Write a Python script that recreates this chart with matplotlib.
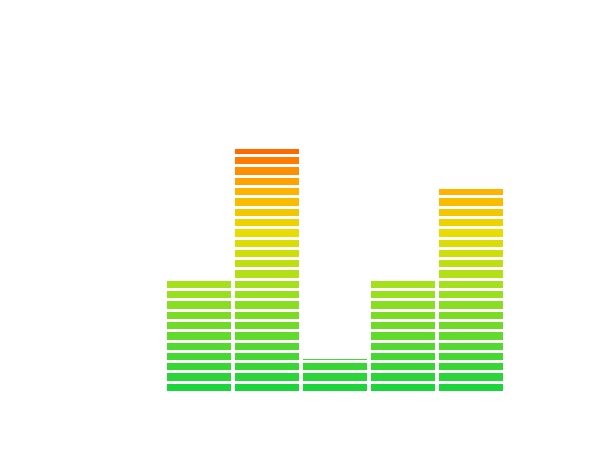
import matplotlib
matplotlib.use("Agg")
import matplotlib.pyplot as plt
from matplotlib.colors import LinearSegmentedColormap
import numpy as np

categories = ["A", "B", "C", "D", "E"]
values = [10.7, 23.5, 3.15, 10.7, 19.6]

cmap = LinearSegmentedColormap.from_list("g", [
    (0.0, "#1ed43c"), (0.43, "#a6e01a"), (0.64, "#e8dc00"),
    (0.82, "#ffb000"), (1.0, "#ff6000")])
vmax = 23.5

fig = plt.figure(figsize=(5.97, 4.5), dpi=100)
ax = fig.add_axes([165/597, 59/450, 340/597, 309/450])
x = np.arange(len(categories))
for xi, v in zip(x, values):
    k = 0
    while k < v:
        top = min(k + 0.7, v)
        ax.bar(xi, top - k, bottom=k, width=0.94, color=cmap(min(k / vmax, 1.0)), linewidth=0)
        k += 1
ax.set_xlim(-0.5, 4.5)
ax.set_ylim(0, 30)
ax.axis("off")
fig.savefig("out.png", dpi=100)
